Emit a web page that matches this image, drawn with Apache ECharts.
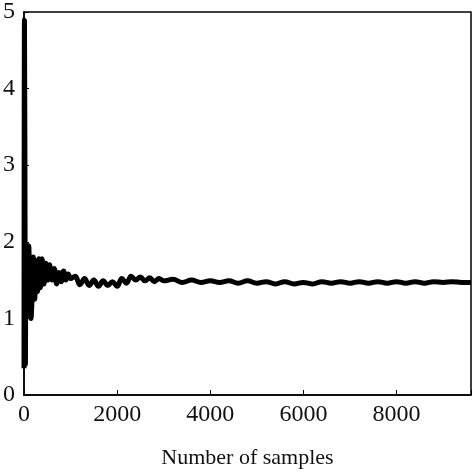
<!DOCTYPE html>
<html><head><meta charset="utf-8">
<script src="https://cdn.jsdelivr.net/npm/echarts@6/dist/echarts.min.js"></script>
<style>html,body{margin:0;padding:0;background:#fff}#c{width:474px;height:474px}</style>
</head><body><div id="c"></div>
<script>
var xTicks = [0, 2000, 4000, 6000, 8000]
var samples = [0, 10, 20, 30, 45, 60, 80, 100, 125, 150, 175, 200, 230, 260, 290, 320, 350, 390, 430, 470, 510, 550, 600, 650, 700, 750, 800, 850, 900, 950, 1000,
  1100, 1200, 1300, 1400, 1500, 1600, 1700, 1800, 1900, 2000, 2100, 2200, 2300, 2400, 2500, 2600, 2700, 2800, 2900, 3000,
  3200, 3400, 3600, 3800, 4000, 4200, 4400, 4600, 4800, 5000, 5200, 5400, 5600, 5800, 6000, 6200, 6400, 6600, 6800, 7000,
  7200, 7400, 7600, 7800, 8000, 8200, 8400, 8600, 8800, 9000, 9200, 9400, 9600]
var values = [0.35, 4.9, 3.0, 0.4, 1.9, 1.2, 1.6, 1.95, 1.4, 1.0, 1.3, 1.8, 1.25, 1.75, 1.35, 1.78, 1.4, 1.78, 1.45, 1.72, 1.5, 1.7, 1.5, 1.65, 1.45, 1.6, 1.48, 1.62, 1.5, 1.58, 1.52,
  1.55, 1.44, 1.52, 1.43, 1.5, 1.42, 1.49, 1.43, 1.48, 1.42, 1.52, 1.46, 1.55, 1.5, 1.54, 1.49, 1.53, 1.48, 1.52, 1.49,
  1.51, 1.47, 1.50, 1.47, 1.49, 1.47, 1.49, 1.46, 1.49, 1.46, 1.48, 1.45, 1.48, 1.45, 1.47, 1.45, 1.48, 1.46, 1.48, 1.46,
  1.48, 1.46, 1.48, 1.46, 1.48, 1.46, 1.48, 1.46, 1.48, 1.47, 1.48, 1.47, 1.47]

var myChart = echarts.init(document.getElementById('c'))
var font = 'Liberation Serif'
var option = {
  animation: false,
  grid: { left: 15, right: -6, top: 1, bottom: 72, show: true, borderColor: '#000', borderWidth: 1.5 },
  xAxis: {
    type: 'value', min: 0, max: 9600, interval: 2000,
    name: 'Number of samples', nameLocation: 'middle', nameGap: 52,
    nameTextStyle: { fontFamily: font, fontSize: 22, color: '#111' },
    axisLine: { lineStyle: { color: '#000', width: 1.5 } },
    axisTick: { inside: true, length: 5, lineStyle: { color: '#000' } },
    axisLabel: { fontFamily: font, fontSize: 24, color: '#111', margin: 8,
      formatter: function (v) { return xTicks.indexOf(v) >= 0 ? v : '' } },
    splitLine: { show: false }
  },
  yAxis: {
    type: 'value', min: 0, max: 5, interval: 1,
    axisLine: { lineStyle: { color: '#000', width: 1.5 } },
    axisTick: { inside: true, length: 5, lineStyle: { color: '#000' } },
    axisLabel: { fontFamily: font, fontSize: 24, color: '#111', margin: 9 },
    splitLine: { show: false }
  },
  series: [{
    type: 'line', showSymbol: false, smooth: 0.4,
    lineStyle: { color: '#000', width: 5 },
    data: samples.map(function (s, i) { return [s, values[i]] })
  }]
}
myChart.setOption(option)
</script></body></html>
